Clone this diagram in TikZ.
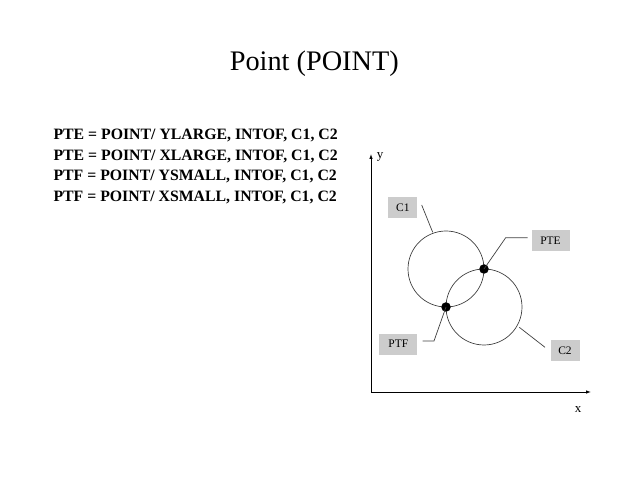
\documentclass[tikz,border=0pt]{standalone}
\usepackage{fontspec}
\setmainfont{Liberation Serif}
\usetikzlibrary{arrows.meta}
\begin{document}
\begin{tikzpicture}[x=1pt,y=-1pt,
  lab/.style={fill=black!20,inner sep=0pt,minimum width=29pt,minimum height=21pt,font=\fontsize{11.5}{12}\selectfont},
  code/.style={anchor=base west,inner sep=0pt,font=\fontsize{15.8}{18}\selectfont\bfseries},
  ring/.style={circle,draw=black!75,line width=0.7pt,minimum size=76pt,inner sep=0pt},
  pt/.style={circle,fill=black,minimum size=9.5pt,inner sep=0pt},
  lead/.style={draw=black!75,line width=0.7pt},
  axis/.style={draw=black,line width=0.8pt,-{Latex[length=5pt,width=3.5pt]}}]
\useasboundingbox (0,0) rectangle (638,478);
\node[anchor=base,inner sep=0pt,font=\fontsize{28.3}{30}\selectfont] (title) at (314.3,71) {Point (POINT)};
\node[code] (l1) at (53.3,140) {PTE = POINT/ YLARGE, INTOF, C1, C2};
\node[code] (l2) at (53.3,160.5) {PTE = POINT/ XLARGE, INTOF, C1, C2};
\node[code] (l3) at (53.3,181) {PTF = POINT/ YSMALL, INTOF, C1, C2};
\node[code] (l4) at (53.3,201.5) {PTF = POINT/ XSMALL, INTOF, C1, C2};
% axes
\coordinate (o) at (371,392);
\coordinate (ytop) at (371,154);
\coordinate (xend) at (591,392);
\draw[axis] (o) -- (ytop);
\draw[axis] (o) -- (xend);
\node[font=\fontsize{13}{14}\selectfont,inner sep=0pt] (ylab) at (380,157) {y};
\node[font=\fontsize{13}{14}\selectfont,inner sep=0pt] (xlab) at (578,410) {x};
% circles
\node[ring] (c1) at (446,269) {};
\node[ring] (c2) at (484,307) {};
\node[pt] (pte) at (484,269) {};
\node[pt] (ptf) at (446,307) {};
% labels
\node[lab,minimum width=29pt] (c1lab) at (402.8,208) {C1};
\node[lab,minimum width=38pt] (ptelab) at (550.5,241) {PTE};
\node[lab,minimum width=38pt] (ptflab) at (398.3,344.2) {PTF};
\node[lab,minimum width=29pt] (c2lab) at (565,350.5) {C2};
% leaders
\coordinate (a1) at (421.7,205);
\coordinate (a2) at (432.7,232.3);
\draw[lead] (a1) -- (a2);
\coordinate (b1) at (505.7,237.7);
\coordinate (b2) at (527.7,237.7);
\draw[lead] (pte.center) -- (b1) -- (b2);
\coordinate (d1) at (434,341);
\coordinate (d2) at (422.7,341);
\draw[lead] (ptf.center) -- (d1) -- (d2);
\coordinate (e1) at (519.3,327.3);
\coordinate (e2) at (545,347.3);
\draw[lead] (e1) -- (e2);
\end{tikzpicture}
\end{document}
